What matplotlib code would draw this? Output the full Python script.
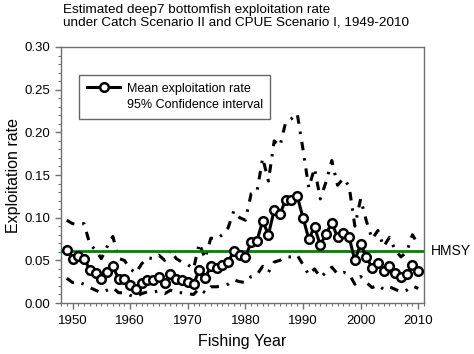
import matplotlib
matplotlib.use("Agg")
import matplotlib.pyplot as plt
from matplotlib.lines import Line2D
from matplotlib.ticker import MultipleLocator

years = list(range(1949, 2011))

mean_rate = [0.062, 0.052, 0.055, 0.052, 0.039, 0.035, 0.028, 0.036, 0.043, 0.028,
             0.028, 0.021, 0.016, 0.023, 0.027, 0.027, 0.030, 0.023, 0.034, 0.028,
             0.027, 0.025, 0.022, 0.039, 0.029, 0.043, 0.041, 0.044, 0.048, 0.061,
             0.056, 0.054, 0.071, 0.073, 0.096, 0.080, 0.109, 0.104, 0.121, 0.121,
             0.125, 0.100, 0.075, 0.089, 0.068, 0.081, 0.094, 0.077, 0.082, 0.077,
             0.050, 0.069, 0.054, 0.041, 0.047, 0.037, 0.043, 0.035, 0.030, 0.034,
             0.045, 0.038]

upper_ci = [0.097, 0.093, 0.092, 0.093, 0.069, 0.062, 0.052, 0.066, 0.078, 0.052,
            0.050, 0.040, 0.035, 0.046, 0.053, 0.052, 0.056, 0.050, 0.062, 0.052,
            0.048, 0.045, 0.040, 0.070, 0.052, 0.076, 0.075, 0.080, 0.088, 0.108,
            0.100, 0.097, 0.128, 0.130, 0.170, 0.143, 0.190, 0.184, 0.212, 0.216,
            0.222, 0.180, 0.135, 0.158, 0.122, 0.142, 0.167, 0.138, 0.146, 0.137,
            0.090, 0.122, 0.096, 0.075, 0.085, 0.066, 0.077, 0.062, 0.054, 0.060,
            0.080, 0.068]

lower_ci = [0.029, 0.024, 0.025, 0.022, 0.018, 0.015, 0.012, 0.015, 0.018, 0.012,
            0.012, 0.009, 0.007, 0.011, 0.013, 0.013, 0.014, 0.011, 0.015, 0.012,
            0.012, 0.011, 0.010, 0.017, 0.012, 0.019, 0.019, 0.020, 0.022, 0.027,
            0.025, 0.024, 0.031, 0.033, 0.043, 0.036, 0.048, 0.050, 0.054, 0.054,
            0.056, 0.045, 0.033, 0.040, 0.030, 0.036, 0.042, 0.034, 0.036, 0.034,
            0.022, 0.031, 0.024, 0.018, 0.021, 0.016, 0.019, 0.016, 0.013, 0.015,
            0.020, 0.017]

hmsy = 0.061

plt.rcParams["font.family"] = ["Liberation Sans", "DejaVu Sans"]

fig = plt.figure(figsize=(4.74, 3.54), dpi=100)
ax = fig.add_axes([61 / 474, 1 - 303 / 354, 363 / 474, 256 / 354])

ci_style = dict(color="black", lw=2.2, ls=(0, (2.8, 2.6, 0.8, 2.6)))
ax.plot(years, upper_ci, **ci_style)
ax.plot(years, lower_ci, **ci_style)
ax.axhline(hmsy, color="#008000", lw=2.0, zorder=3)
ax.plot(years, mean_rate, color="black", lw=2.2, marker="o", ms=6.2,
        mfc="white", mec="black", mew=1.8, zorder=4)

ax.set_xlim(1948, 2011)
ax.set_ylim(0, 0.30)
ax.xaxis.set_major_locator(MultipleLocator(10))
ax.xaxis.set_minor_locator(MultipleLocator(1))
ax.yaxis.set_major_locator(MultipleLocator(0.05))
ax.yaxis.set_minor_locator(MultipleLocator(0.01))
ax.yaxis.set_major_formatter(plt.FormatStrFormatter("%.2f"))

for s in ax.spines.values():
    s.set_color("#707070")
    s.set_linewidth(1.0)
ax.tick_params(which="both", direction="out", color="#707070", labelsize=9.5)
ax.tick_params(which="major", length=4, width=1.0)
ax.tick_params(which="minor", length=2, width=0.8)
ax.tick_params(axis="x", pad=5)

ax.set_xlabel("Fishing Year", fontsize=11.5, labelpad=5)
ax.set_ylabel("Exploitation rate", fontsize=11.5, labelpad=3)

ax.text(1.02, hmsy, "HMSY", transform=ax.get_yaxis_transform(),
        fontsize=10, va="center", ha="left")

fig.text(63 / 474, 1 - 4 / 354,
         "Estimated deep7 bottomfish exploitation rate\n"
         "under Catch Scenario II and CPUE Scenario I, 1949-2010",
         fontsize=9.7, ha="left", va="top", linespacing=1.1)

handles = [Line2D([], [], color="black", lw=2.2, marker="o", ms=6.2,
                  mfc="white", mec="black", mew=1.8),
           Line2D([], [], ls="None")]
leg = ax.legend(handles, ["Mean exploitation rate", "95% Confidence interval"],
                loc="upper left", bbox_to_anchor=(0.05, 0.89), borderaxespad=0,
                fancybox=False, frameon=True, edgecolor="#404040",
                fontsize=9, handlelength=2.7, labelspacing=0.35,
                borderpad=0.6, handletextpad=0.5)
leg.get_frame().set_linewidth(1.0)

fig.savefig("out.png", dpi=100)
